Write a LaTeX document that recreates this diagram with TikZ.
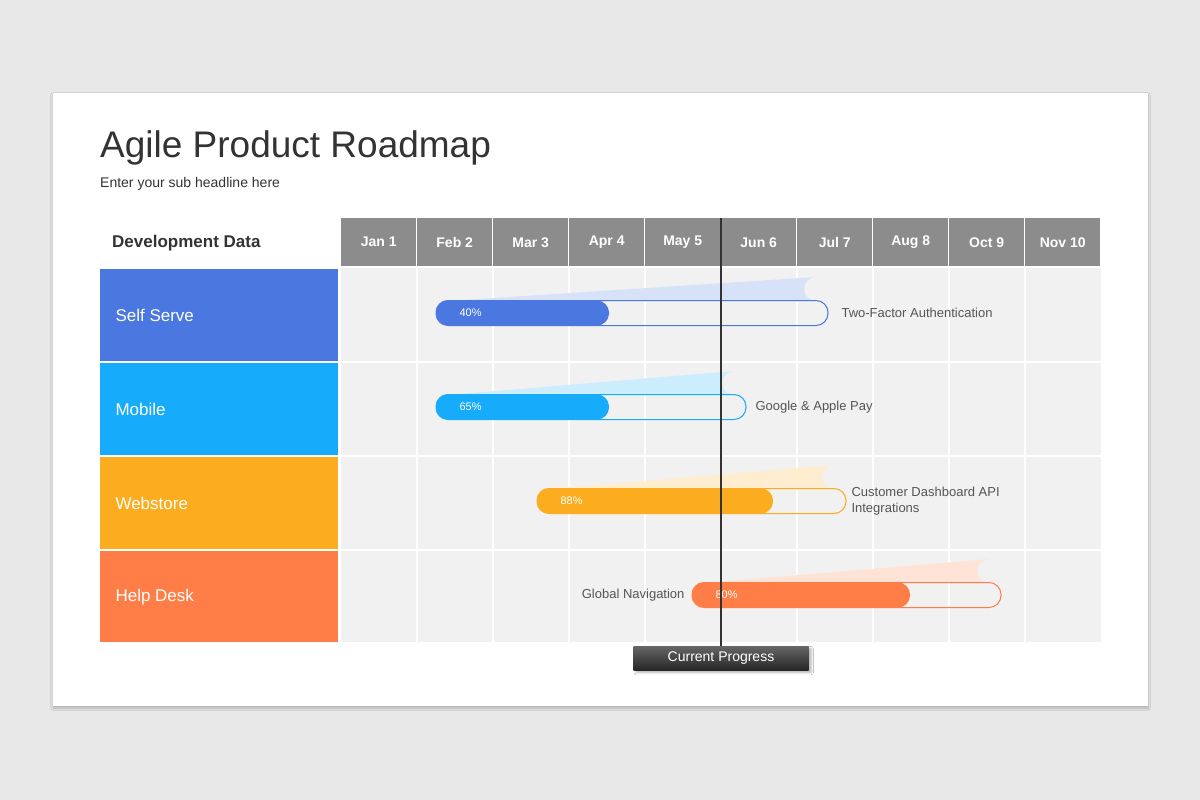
\documentclass[tikz,border=0pt]{standalone}
\usepackage{fontspec}
\setmainfont{Liberation Sans}
\usetikzlibrary{shadows.blur}
\definecolor{bgc}{HTML}{E9E8E9}
\definecolor{hdr}{HTML}{8C8C8C}
\definecolor{cell}{HTML}{F1F1F1}
\definecolor{cA}{HTML}{4A77E0}
\definecolor{cB}{HTML}{17ABFB}
\definecolor{cC}{HTML}{FBAC1F}
\definecolor{cD}{HTML}{FF7E47}
\definecolor{txt}{HTML}{333333}
\definecolor{lbl}{HTML}{555555}
\tikzset{
 hcell/.style={fill=hdr,draw=none,minimum width=75pt,minimum height=48pt,inner sep=0,text=white,font=\fontsize{14}{16}\selectfont\bfseries},
 rowbox/.style={draw=none,minimum width=238pt,minimum height=92pt,inner sep=0,text=white,font=\fontsize{17}{20}\selectfont},
 barlbl/.style={text=lbl,font=\fontsize{13}{16}\selectfont,align=left},
 pct/.style={text=white,font=\fontsize{11}{13}\selectfont}
}
\begin{document}
\begin{tikzpicture}[x=1pt,y=-1pt]
\useasboundingbox (0,0) rectangle (1200,800);
\fill[bgc] (0,0) rectangle (1200,800);
\fill[white,blur shadow={shadow xshift=0pt,shadow yshift=-2pt,shadow blur steps=8,shadow opacity=25}] (53,93) rectangle (1148,706);
\node[anchor=base west,inner sep=0,text=txt,font=\fontsize{37}{40}\selectfont] (title) at (100,157) {Agile Product Roadmap};
\node[anchor=base west,inner sep=0,text=txt,font=\fontsize{14}{16}\selectfont] (sub) at (100,187) {Enter your sub headline here};
\node[anchor=west,inner sep=0,text=txt,font=\fontsize{17}{20}\selectfont\bfseries] (dd) at (112,243) {Development Data};
% grid
\fill[cell] (341,268) rectangle (1101,642);
\foreach \i in {1,...,9} \draw[white,line width=2pt] (341+76*\i,268) -- (341+76*\i,642);
\foreach \y in {362,456,550} \draw[white,line width=2pt] (341,\y) -- (1101,\y);
% headers
\foreach \t [count=\i from 0] in {Jan 1,Feb 2,Mar 3,Apr 4,May 5,Jun 6,Jul 7,Aug 8,Oct 9,Nov 10}
  \node[hcell,anchor=north west] (h\i) at (341+76*\i,218) {\t};
% rows
\node[rowbox,fill=cA,anchor=north west] (r1) at (100,269) {};
\node[anchor=west,text=white,font=\fontsize{17}{20}\selectfont] at (r1.west) [xshift=12pt] {Self Serve};
\node[rowbox,fill=cB,anchor=north west] (r2) at (100,363) {};
\node[anchor=west,text=white,font=\fontsize{17}{20}\selectfont] at (r2.west) [xshift=12pt] {Mobile};
\node[rowbox,fill=cC,anchor=north west] (r3) at (100,457) {};
\node[anchor=west,text=white,font=\fontsize{17}{20}\selectfont] at (r3.west) [xshift=12pt] {Webstore};
\node[rowbox,fill=cD,anchor=north west,minimum height=91pt] (r4) at (100,551) {};
\node[anchor=west,text=white,font=\fontsize{17}{20}\selectfont] at (r4.west) [xshift=12pt] {Help Desk};
% bars: \bar{y}{x0}{x1}{xf}{col}{pct}
\newcommand\mybar[6]{%
 \fill[#5!22!white] (#2+12,#1-12) -- (#3-12,#1-12) arc (-90:90:-12) -- cycle;
 \draw[#5,line width=1pt,rounded corners=12pt] (#2,#1-12.5) rectangle (#3,#1+12.5);
 \fill[#5,rounded corners=12pt] (#2,#1-12.5) rectangle (#4,#1+12.5);
 \node[pct,anchor=west] at (#2+20,#1) {#6};
}
\mybar{313}{436}{828}{609}{cA}{40\%}
\mybar{407}{436}{746}{609}{cB}{65\%}
\mybar{501}{537}{846}{773}{cC}{88\%}
\mybar{595}{692}{1001}{910}{cD}{80\%}
\node[barlbl,anchor=west] (l1) at (838,313) {Two-Factor Authentication};
\node[barlbl,anchor=west] (l2) at (752,407) {Google \& Apple Pay};
\node[barlbl,anchor=west] (l3) at (848,501) {Customer Dashboard API\\Integrations};
\node[barlbl,anchor=east] (l4) at (688,595) {Global Navigation};
% current progress
\draw[black!80,line width=1.2pt] (721,218) -- (721,646);
\node[minimum width=175pt,minimum height=24pt,inner sep=0,top color=black!60,bottom color=black!85,text=white,font=\fontsize{14}{16}\selectfont,blur shadow={shadow blur steps=5,shadow opacity=30}] (cp) at (721,658) {Current Progress};
\end{tikzpicture}
\end{document}
